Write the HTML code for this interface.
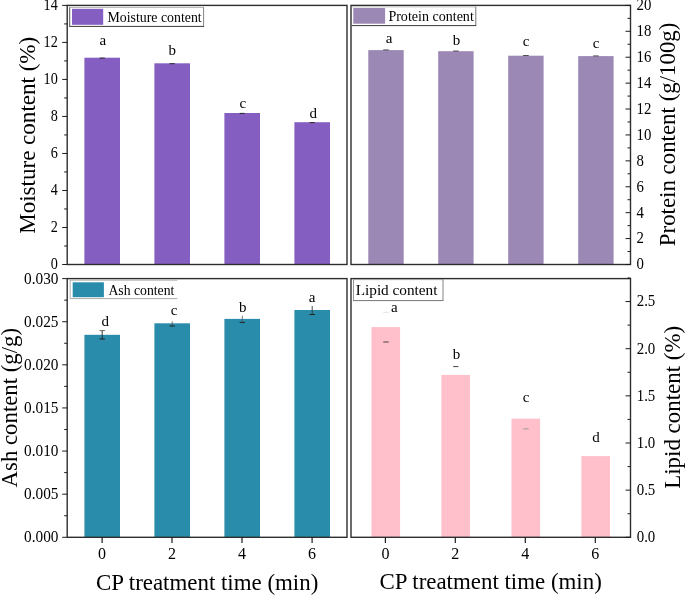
<!DOCTYPE html>
<html><head><meta charset="utf-8"><title>Figure</title>
<style>
html,body{margin:0;padding:0;background:#fff;}
svg{display:block;font-family:"Liberation Serif", serif;}
</style></head><body>
<svg width="685" height="595" viewBox="0 0 685 595">
<rect x="0" y="0" width="685" height="595" fill="#fff"/>
<rect x="84.40" y="57.70" width="35.60" height="206.80" fill="#855EC2" />
<rect x="154.40" y="63.30" width="35.60" height="201.20" fill="#855EC2" />
<rect x="224.40" y="113.00" width="35.60" height="151.50" fill="#855EC2" />
<rect x="294.40" y="122.20" width="35.60" height="142.30" fill="#855EC2" />
<rect x="368.30" y="50.10" width="35.40" height="214.40" fill="#9B88B4" />
<rect x="438.20" y="51.20" width="35.40" height="213.30" fill="#9B88B4" />
<rect x="508.20" y="55.70" width="35.40" height="208.80" fill="#9B88B4" />
<rect x="578.20" y="56.10" width="35.40" height="208.40" fill="#9B88B4" />
<rect x="84.40" y="334.80" width="35.60" height="202.50" fill="#2A8CAB" />
<rect x="154.40" y="323.30" width="35.60" height="214.00" fill="#2A8CAB" />
<rect x="224.40" y="318.90" width="35.60" height="218.40" fill="#2A8CAB" />
<rect x="294.40" y="310.00" width="35.60" height="227.30" fill="#2A8CAB" />
<rect x="371.50" y="327.10" width="28.60" height="210.20" fill="#FFC0CB" />
<rect x="441.40" y="374.90" width="28.60" height="162.40" fill="#FFC0CB" />
<rect x="511.50" y="418.70" width="28.60" height="118.60" fill="#FFC0CB" />
<rect x="581.40" y="456.10" width="28.60" height="81.20" fill="#FFC0CB" />
<line x1="99.60" y1="58.10" x2="104.80" y2="58.10" stroke="#2a2a2a" stroke-width="1.0" />
<line x1="169.60" y1="63.70" x2="174.80" y2="63.70" stroke="#2a2a2a" stroke-width="1.0" />
<line x1="239.60" y1="113.40" x2="244.80" y2="113.40" stroke="#2a2a2a" stroke-width="1.0" />
<line x1="309.60" y1="122.60" x2="314.80" y2="122.60" stroke="#2a2a2a" stroke-width="1.0" />
<line x1="383.20" y1="49.90" x2="388.80" y2="49.90" stroke="#2a2a2a" stroke-width="0.8" />
<line x1="453.10" y1="51.00" x2="458.70" y2="51.00" stroke="#2a2a2a" stroke-width="0.8" />
<line x1="523.10" y1="55.50" x2="528.70" y2="55.50" stroke="#2a2a2a" stroke-width="0.8" />
<line x1="593.10" y1="55.90" x2="598.70" y2="55.90" stroke="#2a2a2a" stroke-width="0.8" />
<line x1="102.20" y1="330.50" x2="102.20" y2="339.10" stroke="#222" stroke-width="0.9" />
<line x1="99.50" y1="330.60" x2="104.90" y2="330.60" stroke="#666" stroke-width="1.0" />
<line x1="99.50" y1="339.00" x2="104.90" y2="339.00" stroke="#222" stroke-width="1.0" />
<line x1="172.20" y1="321.40" x2="172.20" y2="326.20" stroke="#444" stroke-width="0.8" />
<line x1="169.50" y1="326.00" x2="174.90" y2="326.00" stroke="#222" stroke-width="1.0" />
<line x1="242.30" y1="315.70" x2="242.30" y2="322.50" stroke="#555" stroke-width="0.8" />
<line x1="239.60" y1="322.40" x2="245.00" y2="322.40" stroke="#222" stroke-width="1.0" />
<line x1="312.20" y1="306.00" x2="312.20" y2="314.60" stroke="#333" stroke-width="0.9" />
<line x1="309.40" y1="314.50" x2="315.00" y2="314.50" stroke="#222" stroke-width="1.0" />
<line x1="383.30" y1="342.00" x2="388.70" y2="342.00" stroke="#444" stroke-width="1.0" />
<line x1="383.30" y1="312.40" x2="388.70" y2="312.40" stroke="#e4e4e4" stroke-width="1.0" />
<line x1="453.20" y1="366.60" x2="458.40" y2="366.60" stroke="#444" stroke-width="1.0" />
<line x1="523.30" y1="428.90" x2="528.70" y2="428.90" stroke="#999" stroke-width="1.0" />
<rect x="67.20" y="5.40" width="279.80" height="259.10" fill="none" stroke="#2e2e2e" stroke-width="1.4"/>
<rect x="351.00" y="5.40" width="279.50" height="259.10" fill="none" stroke="#2e2e2e" stroke-width="1.4"/>
<rect x="67.20" y="278.60" width="279.80" height="258.70" fill="none" stroke="#2e2e2e" stroke-width="1.4"/>
<rect x="351.00" y="278.60" width="279.50" height="258.70" fill="none" stroke="#2e2e2e" stroke-width="1.4"/>
<line x1="62.20" y1="264.50" x2="67.20" y2="264.50" stroke="#1c1c1c" stroke-width="1.0" />
<text x="57.80" y="269.40" font-size="16.0" text-anchor="end" fill="#000" textLength="7.10" lengthAdjust="spacingAndGlyphs">0</text>
<line x1="64.20" y1="245.99" x2="67.20" y2="245.99" stroke="#1c1c1c" stroke-width="1.0" />
<line x1="62.20" y1="227.49" x2="67.20" y2="227.49" stroke="#1c1c1c" stroke-width="1.0" />
<text x="57.80" y="232.39" font-size="16.0" text-anchor="end" fill="#000" textLength="7.10" lengthAdjust="spacingAndGlyphs">2</text>
<line x1="64.20" y1="208.98" x2="67.20" y2="208.98" stroke="#1c1c1c" stroke-width="1.0" />
<line x1="62.20" y1="190.47" x2="67.20" y2="190.47" stroke="#1c1c1c" stroke-width="1.0" />
<text x="57.80" y="195.37" font-size="16.0" text-anchor="end" fill="#000" textLength="7.10" lengthAdjust="spacingAndGlyphs">4</text>
<line x1="64.20" y1="171.96" x2="67.20" y2="171.96" stroke="#1c1c1c" stroke-width="1.0" />
<line x1="62.20" y1="153.46" x2="67.20" y2="153.46" stroke="#1c1c1c" stroke-width="1.0" />
<text x="57.80" y="158.36" font-size="16.0" text-anchor="end" fill="#000" textLength="7.10" lengthAdjust="spacingAndGlyphs">6</text>
<line x1="64.20" y1="134.95" x2="67.20" y2="134.95" stroke="#1c1c1c" stroke-width="1.0" />
<line x1="62.20" y1="116.44" x2="67.20" y2="116.44" stroke="#1c1c1c" stroke-width="1.0" />
<text x="57.80" y="121.34" font-size="16.0" text-anchor="end" fill="#000" textLength="7.10" lengthAdjust="spacingAndGlyphs">8</text>
<line x1="64.20" y1="97.94" x2="67.20" y2="97.94" stroke="#1c1c1c" stroke-width="1.0" />
<line x1="62.20" y1="79.43" x2="67.20" y2="79.43" stroke="#1c1c1c" stroke-width="1.0" />
<text x="57.80" y="84.33" font-size="16.0" text-anchor="end" fill="#000" textLength="14.21" lengthAdjust="spacingAndGlyphs">10</text>
<line x1="64.20" y1="60.92" x2="67.20" y2="60.92" stroke="#1c1c1c" stroke-width="1.0" />
<line x1="62.20" y1="42.41" x2="67.20" y2="42.41" stroke="#1c1c1c" stroke-width="1.0" />
<text x="57.80" y="47.31" font-size="16.0" text-anchor="end" fill="#000" textLength="14.21" lengthAdjust="spacingAndGlyphs">12</text>
<line x1="64.20" y1="23.91" x2="67.20" y2="23.91" stroke="#1c1c1c" stroke-width="1.0" />
<line x1="62.20" y1="5.40" x2="67.20" y2="5.40" stroke="#1c1c1c" stroke-width="1.0" />
<text x="57.80" y="10.30" font-size="16.0" text-anchor="end" fill="#000" textLength="14.21" lengthAdjust="spacingAndGlyphs">14</text>
<line x1="625.50" y1="264.50" x2="630.50" y2="264.50" stroke="#1c1c1c" stroke-width="1.0" />
<text x="636.50" y="269.40" font-size="16.0" text-anchor="start" fill="#000" textLength="7.40" lengthAdjust="spacingAndGlyphs">0</text>
<line x1="627.50" y1="251.54" x2="630.50" y2="251.54" stroke="#1c1c1c" stroke-width="1.0" />
<line x1="625.50" y1="238.59" x2="630.50" y2="238.59" stroke="#1c1c1c" stroke-width="1.0" />
<text x="636.50" y="243.49" font-size="16.0" text-anchor="start" fill="#000" textLength="7.40" lengthAdjust="spacingAndGlyphs">2</text>
<line x1="627.50" y1="225.63" x2="630.50" y2="225.63" stroke="#1c1c1c" stroke-width="1.0" />
<line x1="625.50" y1="212.68" x2="630.50" y2="212.68" stroke="#1c1c1c" stroke-width="1.0" />
<text x="636.50" y="217.58" font-size="16.0" text-anchor="start" fill="#000" textLength="7.40" lengthAdjust="spacingAndGlyphs">4</text>
<line x1="627.50" y1="199.72" x2="630.50" y2="199.72" stroke="#1c1c1c" stroke-width="1.0" />
<line x1="625.50" y1="186.77" x2="630.50" y2="186.77" stroke="#1c1c1c" stroke-width="1.0" />
<text x="636.50" y="191.67" font-size="16.0" text-anchor="start" fill="#000" textLength="7.40" lengthAdjust="spacingAndGlyphs">6</text>
<line x1="627.50" y1="173.81" x2="630.50" y2="173.81" stroke="#1c1c1c" stroke-width="1.0" />
<line x1="625.50" y1="160.86" x2="630.50" y2="160.86" stroke="#1c1c1c" stroke-width="1.0" />
<text x="636.50" y="165.76" font-size="16.0" text-anchor="start" fill="#000" textLength="7.40" lengthAdjust="spacingAndGlyphs">8</text>
<line x1="627.50" y1="147.90" x2="630.50" y2="147.90" stroke="#1c1c1c" stroke-width="1.0" />
<line x1="625.50" y1="134.95" x2="630.50" y2="134.95" stroke="#1c1c1c" stroke-width="1.0" />
<text x="636.50" y="139.85" font-size="16.0" text-anchor="start" fill="#000" textLength="14.80" lengthAdjust="spacingAndGlyphs">10</text>
<line x1="627.50" y1="121.99" x2="630.50" y2="121.99" stroke="#1c1c1c" stroke-width="1.0" />
<line x1="625.50" y1="109.04" x2="630.50" y2="109.04" stroke="#1c1c1c" stroke-width="1.0" />
<text x="636.50" y="113.94" font-size="16.0" text-anchor="start" fill="#000" textLength="14.80" lengthAdjust="spacingAndGlyphs">12</text>
<line x1="627.50" y1="96.08" x2="630.50" y2="96.08" stroke="#1c1c1c" stroke-width="1.0" />
<line x1="625.50" y1="83.13" x2="630.50" y2="83.13" stroke="#1c1c1c" stroke-width="1.0" />
<text x="636.50" y="88.03" font-size="16.0" text-anchor="start" fill="#000" textLength="14.80" lengthAdjust="spacingAndGlyphs">14</text>
<line x1="627.50" y1="70.17" x2="630.50" y2="70.17" stroke="#1c1c1c" stroke-width="1.0" />
<line x1="625.50" y1="57.22" x2="630.50" y2="57.22" stroke="#1c1c1c" stroke-width="1.0" />
<text x="636.50" y="62.12" font-size="16.0" text-anchor="start" fill="#000" textLength="14.80" lengthAdjust="spacingAndGlyphs">16</text>
<line x1="627.50" y1="44.26" x2="630.50" y2="44.26" stroke="#1c1c1c" stroke-width="1.0" />
<line x1="625.50" y1="31.31" x2="630.50" y2="31.31" stroke="#1c1c1c" stroke-width="1.0" />
<text x="636.50" y="36.21" font-size="16.0" text-anchor="start" fill="#000" textLength="14.80" lengthAdjust="spacingAndGlyphs">18</text>
<line x1="627.50" y1="18.35" x2="630.50" y2="18.35" stroke="#1c1c1c" stroke-width="1.0" />
<line x1="625.50" y1="5.40" x2="630.50" y2="5.40" stroke="#1c1c1c" stroke-width="1.0" />
<text x="636.50" y="10.30" font-size="16.0" text-anchor="start" fill="#000" textLength="14.80" lengthAdjust="spacingAndGlyphs">20</text>
<line x1="62.20" y1="537.30" x2="67.20" y2="537.30" stroke="#1c1c1c" stroke-width="1.0" />
<text x="58.50" y="542.20" font-size="16.0" text-anchor="end" fill="#000" textLength="34.38" lengthAdjust="spacingAndGlyphs">0.000</text>
<line x1="64.20" y1="515.74" x2="67.20" y2="515.74" stroke="#1c1c1c" stroke-width="1.0" />
<line x1="62.20" y1="494.18" x2="67.20" y2="494.18" stroke="#1c1c1c" stroke-width="1.0" />
<text x="58.50" y="499.08" font-size="16.0" text-anchor="end" fill="#000" textLength="34.38" lengthAdjust="spacingAndGlyphs">0.005</text>
<line x1="64.20" y1="472.62" x2="67.20" y2="472.62" stroke="#1c1c1c" stroke-width="1.0" />
<line x1="62.20" y1="451.07" x2="67.20" y2="451.07" stroke="#1c1c1c" stroke-width="1.0" />
<text x="58.50" y="455.97" font-size="16.0" text-anchor="end" fill="#000" textLength="34.38" lengthAdjust="spacingAndGlyphs">0.010</text>
<line x1="64.20" y1="429.51" x2="67.20" y2="429.51" stroke="#1c1c1c" stroke-width="1.0" />
<line x1="62.20" y1="407.95" x2="67.20" y2="407.95" stroke="#1c1c1c" stroke-width="1.0" />
<text x="58.50" y="412.85" font-size="16.0" text-anchor="end" fill="#000" textLength="34.38" lengthAdjust="spacingAndGlyphs">0.015</text>
<line x1="64.20" y1="386.39" x2="67.20" y2="386.39" stroke="#1c1c1c" stroke-width="1.0" />
<line x1="62.20" y1="364.83" x2="67.20" y2="364.83" stroke="#1c1c1c" stroke-width="1.0" />
<text x="58.50" y="369.73" font-size="16.0" text-anchor="end" fill="#000" textLength="34.38" lengthAdjust="spacingAndGlyphs">0.020</text>
<line x1="64.20" y1="343.27" x2="67.20" y2="343.27" stroke="#1c1c1c" stroke-width="1.0" />
<line x1="62.20" y1="321.72" x2="67.20" y2="321.72" stroke="#1c1c1c" stroke-width="1.0" />
<text x="58.50" y="326.62" font-size="16.0" text-anchor="end" fill="#000" textLength="34.38" lengthAdjust="spacingAndGlyphs">0.025</text>
<line x1="64.20" y1="300.16" x2="67.20" y2="300.16" stroke="#1c1c1c" stroke-width="1.0" />
<line x1="62.20" y1="278.60" x2="67.20" y2="278.60" stroke="#1c1c1c" stroke-width="1.0" />
<text x="58.50" y="283.50" font-size="16.0" text-anchor="end" fill="#000" textLength="34.38" lengthAdjust="spacingAndGlyphs">0.030</text>
<line x1="625.50" y1="537.30" x2="630.50" y2="537.30" stroke="#1c1c1c" stroke-width="1.0" />
<text x="636.70" y="542.20" font-size="16.0" text-anchor="start" fill="#000" textLength="18.60" lengthAdjust="spacingAndGlyphs">0.0</text>
<line x1="627.50" y1="513.72" x2="630.50" y2="513.72" stroke="#1c1c1c" stroke-width="1.0" />
<line x1="625.50" y1="490.15" x2="630.50" y2="490.15" stroke="#1c1c1c" stroke-width="1.0" />
<text x="636.70" y="495.05" font-size="16.0" text-anchor="start" fill="#000" textLength="18.60" lengthAdjust="spacingAndGlyphs">0.5</text>
<line x1="627.50" y1="466.57" x2="630.50" y2="466.57" stroke="#1c1c1c" stroke-width="1.0" />
<line x1="625.50" y1="443.00" x2="630.50" y2="443.00" stroke="#1c1c1c" stroke-width="1.0" />
<text x="636.70" y="447.90" font-size="16.0" text-anchor="start" fill="#000" textLength="18.60" lengthAdjust="spacingAndGlyphs">1.0</text>
<line x1="627.50" y1="419.43" x2="630.50" y2="419.43" stroke="#1c1c1c" stroke-width="1.0" />
<line x1="625.50" y1="395.85" x2="630.50" y2="395.85" stroke="#1c1c1c" stroke-width="1.0" />
<text x="636.70" y="400.75" font-size="16.0" text-anchor="start" fill="#000" textLength="18.60" lengthAdjust="spacingAndGlyphs">1.5</text>
<line x1="627.50" y1="372.28" x2="630.50" y2="372.28" stroke="#1c1c1c" stroke-width="1.0" />
<line x1="625.50" y1="348.70" x2="630.50" y2="348.70" stroke="#1c1c1c" stroke-width="1.0" />
<text x="636.70" y="353.60" font-size="16.0" text-anchor="start" fill="#000" textLength="18.60" lengthAdjust="spacingAndGlyphs">2.0</text>
<line x1="627.50" y1="325.12" x2="630.50" y2="325.12" stroke="#1c1c1c" stroke-width="1.0" />
<line x1="625.50" y1="301.55" x2="630.50" y2="301.55" stroke="#1c1c1c" stroke-width="1.0" />
<text x="636.70" y="306.45" font-size="16.0" text-anchor="start" fill="#000" textLength="18.60" lengthAdjust="spacingAndGlyphs">2.5</text>
<line x1="627.50" y1="277.98" x2="630.50" y2="277.98" stroke="#1c1c1c" stroke-width="1.0" />
<line x1="102.10" y1="537.30" x2="102.10" y2="542.90" stroke="#1c1c1c" stroke-width="1.2" />
<text x="102.10" y="558.80" font-size="16.0" text-anchor="middle" fill="#000" >0</text>
<line x1="172.00" y1="537.30" x2="172.00" y2="542.90" stroke="#1c1c1c" stroke-width="1.2" />
<text x="172.00" y="558.80" font-size="16.0" text-anchor="middle" fill="#000" >2</text>
<line x1="242.00" y1="537.30" x2="242.00" y2="542.90" stroke="#1c1c1c" stroke-width="1.2" />
<text x="242.00" y="558.80" font-size="16.0" text-anchor="middle" fill="#000" >4</text>
<line x1="312.10" y1="537.30" x2="312.10" y2="542.90" stroke="#1c1c1c" stroke-width="1.2" />
<text x="312.10" y="558.80" font-size="16.0" text-anchor="middle" fill="#000" >6</text>
<line x1="385.40" y1="537.30" x2="385.40" y2="542.90" stroke="#1c1c1c" stroke-width="1.2" />
<text x="385.40" y="558.80" font-size="16.0" text-anchor="middle" fill="#000" >0</text>
<line x1="455.30" y1="537.30" x2="455.30" y2="542.90" stroke="#1c1c1c" stroke-width="1.2" />
<text x="455.30" y="558.80" font-size="16.0" text-anchor="middle" fill="#000" >2</text>
<line x1="525.30" y1="537.30" x2="525.30" y2="542.90" stroke="#1c1c1c" stroke-width="1.2" />
<text x="525.30" y="558.80" font-size="16.0" text-anchor="middle" fill="#000" >4</text>
<line x1="595.30" y1="537.30" x2="595.30" y2="542.90" stroke="#1c1c1c" stroke-width="1.2" />
<text x="595.30" y="558.80" font-size="16.0" text-anchor="middle" fill="#000" >6</text>
<text x="207.10" y="589.60" font-size="23.6" text-anchor="middle" fill="#000" textLength="222.4" lengthAdjust="spacingAndGlyphs">CP treatment time (min)</text>
<text x="490.60" y="589.40" font-size="23.6" text-anchor="middle" fill="#000" textLength="222.4" lengthAdjust="spacingAndGlyphs">CP treatment time (min)</text>
<text transform="translate(34.60,135.30) rotate(-90)" font-size="22.6" text-anchor="middle" fill="#000" textLength="197.0" lengthAdjust="spacingAndGlyphs">Moisture content (%)</text>
<text transform="translate(674.50,134.40) rotate(-90)" font-size="22.6" text-anchor="middle" fill="#000" textLength="223.6" lengthAdjust="spacingAndGlyphs">Protein content (g/100g)</text>
<text transform="translate(16.60,407.70) rotate(-90)" font-size="22.6" text-anchor="middle" fill="#000" textLength="159.5" lengthAdjust="spacingAndGlyphs">Ash content (g/g)</text>
<text transform="translate(679.80,407.30) rotate(-90)" font-size="22.6" text-anchor="middle" fill="#000" textLength="163.0" lengthAdjust="spacingAndGlyphs">Lipid content (%)</text>
<rect x="69.70" y="7.40" width="133.90" height="19.00" fill="#fff" />
<line x1="69.25" y1="7.40" x2="204.05" y2="7.40" stroke="#aaa" stroke-width="0.9" />
<line x1="69.70" y1="7.40" x2="69.70" y2="26.40" stroke="#444" stroke-width="0.9" />
<line x1="203.60" y1="7.40" x2="203.60" y2="26.40" stroke="#777" stroke-width="0.9" />
<line x1="69.25" y1="26.40" x2="204.05" y2="26.40" stroke="#3a3a3a" stroke-width="1.0" />
<rect x="72.00" y="8.80" width="31.20" height="16.00" fill="#855EC2" />
<text x="107.50" y="21.60" font-size="14" text-anchor="start" fill="#000" textLength="94.2" lengthAdjust="spacingAndGlyphs">Moisture content</text>
<rect x="352.20" y="6.90" width="123.60" height="18.70" fill="#fff" />
<line x1="351.75" y1="6.90" x2="476.25" y2="6.90" stroke="#bbb" stroke-width="0.9" />
<line x1="475.80" y1="6.90" x2="475.80" y2="25.60" stroke="#666" stroke-width="0.9" />
<line x1="351.75" y1="25.60" x2="476.25" y2="25.60" stroke="#3a3a3a" stroke-width="1.0" />
<rect x="353.30" y="8.00" width="31.80" height="15.70" fill="#9B88B4" />
<text x="388.40" y="21.10" font-size="14" text-anchor="start" fill="#000" textLength="85.4" lengthAdjust="spacingAndGlyphs">Protein content</text>
<rect x="70.20" y="280.20" width="106.70" height="18.40" fill="#fff" />
<line x1="69.75" y1="280.20" x2="177.35" y2="280.20" stroke="#aaa" stroke-width="0.9" />
<line x1="70.20" y1="280.20" x2="70.20" y2="298.60" stroke="#aaa" stroke-width="0.9" />
<line x1="69.75" y1="298.60" x2="177.35" y2="298.60" stroke="#aaa" stroke-width="1.0" />
<rect x="72.70" y="282.30" width="31.20" height="14.90" fill="#2A8CAB" />
<text x="108.40" y="294.50" font-size="14" text-anchor="start" fill="#000" textLength="66.0" lengthAdjust="spacingAndGlyphs">Ash content</text>
<rect x="353.50" y="279.60" width="89.50" height="21.00" fill="#fff" />
<line x1="353.05" y1="279.60" x2="443.45" y2="279.60" stroke="#999" stroke-width="0.9" />
<line x1="353.50" y1="279.60" x2="353.50" y2="300.60" stroke="#888" stroke-width="0.9" />
<line x1="443.00" y1="279.60" x2="443.00" y2="300.60" stroke="#777" stroke-width="0.9" />
<line x1="353.05" y1="300.60" x2="443.45" y2="300.60" stroke="#777" stroke-width="1.0" />
<text x="355.70" y="295.40" font-size="15" text-anchor="start" fill="#000" textLength="81.8" lengthAdjust="spacingAndGlyphs">Lipid content</text>
<rect x="359.80" y="292.90" width="1.80" height="3.00" fill="#fff" />
<text x="102.90" y="45.30" font-size="15" text-anchor="middle" fill="#000" >a</text>
<text x="172.30" y="54.50" font-size="15" text-anchor="middle" fill="#000" >b</text>
<text x="242.80" y="108.00" font-size="15" text-anchor="middle" fill="#000" >c</text>
<text x="313.30" y="118.00" font-size="15" text-anchor="middle" fill="#000" >d</text>
<text x="389.10" y="43.40" font-size="15" text-anchor="middle" fill="#000" >a</text>
<text x="456.50" y="44.80" font-size="15" text-anchor="middle" fill="#000" >b</text>
<text x="526.00" y="46.20" font-size="15" text-anchor="middle" fill="#000" >c</text>
<text x="596.00" y="47.50" font-size="15" text-anchor="middle" fill="#000" >c</text>
<text x="105.30" y="325.70" font-size="15" text-anchor="middle" fill="#000" >d</text>
<text x="174.20" y="315.00" font-size="15" text-anchor="middle" fill="#000" >c</text>
<text x="242.80" y="311.90" font-size="15" text-anchor="middle" fill="#000" >b</text>
<text x="312.00" y="301.90" font-size="15" text-anchor="middle" fill="#000" >a</text>
<text x="394.40" y="312.40" font-size="15" text-anchor="middle" fill="#000" >a</text>
<text x="456.50" y="359.20" font-size="15" text-anchor="middle" fill="#000" >b</text>
<text x="526.00" y="401.50" font-size="15" text-anchor="middle" fill="#000" >c</text>
<text x="596.00" y="441.70" font-size="15" text-anchor="middle" fill="#000" >d</text>
</svg>
</body></html>
